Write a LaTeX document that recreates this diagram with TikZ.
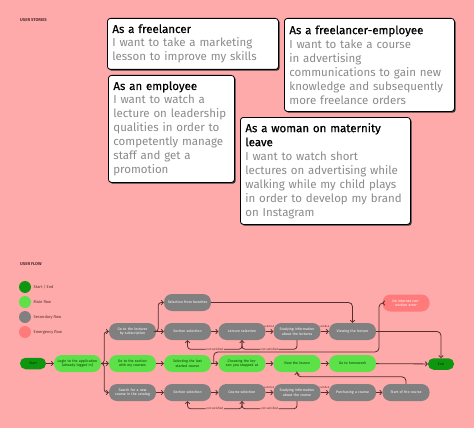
\documentclass[tikz,border=0pt]{standalone}
\usepackage{fontspec}
\setmainfont{Fira Sans}
\newfontfamily\titlef[FakeBold=0.5]{Fira Sans}
\usetikzlibrary{arrows.meta,calc,shadows}
\definecolor{bgpink}{RGB}{255,170,170}
\definecolor{grayn}{RGB}{128,128,128}
\definecolor{greenn}{RGB}{92,226,72}
\definecolor{dgreen}{RGB}{14,150,14}
\definecolor{emerg}{RGB}{255,122,122}
\definecolor{arrc}{RGB}{85,45,45}
\definecolor{bodyg}{RGB}{138,138,138}
\begin{document}
\begin{tikzpicture}[x=1pt,y=-1pt,
  story/.style={draw=black, line width=0.8pt, fill=white, rounded corners=3pt,
    anchor=north west, align=left, inner xsep=5pt, inner ysep=0pt,
    font=\fontsize{11.5}{14}\selectfont,
    drop shadow={shadow xshift=1.3pt, shadow yshift=-1.3pt, opacity=1, fill=black!80}},
  fbase/.style={rounded corners=8pt, minimum width=47pt, minimum height=17pt,
    inner sep=1pt, text width=42pt, align=center, font=\fontsize{3.6}{4.4}\selectfont},
  sec/.style={fbase, fill=grayn, text=white!92!pink},
  mainf/.style={fbase, fill=greenn, text=black!75!green},
  se/.style={fbase, fill=dgreen, text=black!80!green, minimum width=26pt, minimum height=11.5pt,
    rounded corners=5.5pt, text width=22pt},
  emer/.style={fbase, fill=emerg, text=white},
  arr/.style={draw=arrc, line width=0.8pt, -{Straight Barb[length=2pt,width=4.5pt]}},
  nsat/.style={fill=bgpink, inner sep=0.6pt, font=\fontsize{3}{3}\selectfont, text=arrc},
  sat/.style={inner sep=0pt, font=\fontsize{2.6}{2.6}\selectfont, text=arrc},
  heading/.style={anchor=west, inner sep=0pt, font=\fontsize{4.2}{5}\selectfont\bfseries, text=arrc},
  legc/.style={circle, minimum size=12pt, inner sep=0pt},
  legt/.style={anchor=west, inner sep=0pt, font=\fontsize{4}{5}\selectfont, text=arrc}
]
\fill[bgpink] (0,0) rectangle (474,428);
\useasboundingbox (0,0) rectangle (474,428);

% ---- user stories
\node[heading] (hs) at (20,20.5) {USER STORIES};
\node[story, text width=161pt, minimum height=51pt] (s1) at (107,18)
 {{\titlef As a freelancer}\\ \textcolor{bodyg}{I want to take a marketing}\\ \textcolor{bodyg}{lesson to improve my skills}};
\node[story, text width=160pt, minimum height=93pt] (s2) at (284,18)
 {{\titlef As a freelancer-employee}\\ \textcolor{bodyg}{I want to take a course}\\ \textcolor{bodyg}{in advertising}\\ \textcolor{bodyg}{communications to gain new}\\ \textcolor{bodyg}{knowledge and subsequently}\\ \textcolor{bodyg}{more freelance orders}};
\node[story, text width=116pt, minimum height=107pt] (s3) at (108,75)
 {{\titlef As an employee}\\ \textcolor{bodyg}{I want to watch a}\\ \textcolor{bodyg}{lecture on leadership}\\ \textcolor{bodyg}{qualities in order to}\\ \textcolor{bodyg}{competently manage}\\ \textcolor{bodyg}{staff and get a}\\ \textcolor{bodyg}{promotion}};
\node[story, text width=160pt, minimum height=107pt] (s4) at (240,117)
 {{\titlef As a woman on maternity}\\ {\titlef leave}\\ \textcolor{bodyg}{I want to watch short}\\ \textcolor{bodyg}{lectures on advertising while}\\ \textcolor{bodyg}{walking while my child plays}\\ \textcolor{bodyg}{in order to develop my brand}\\ \textcolor{bodyg}{on Instagram}};

% ---- legend
\node[heading] (hf) at (20,264) {USER FLOW};
\node[legc, fill=dgreen] (l1) at (25,287) {};
\node[legc, fill=greenn] (l2) at (25,302) {};
\node[legc, fill=grayn] (l3) at (25,317) {};
\node[legc, fill=emerg] (l4) at (25,332) {};
\node[legt] (t1) at (33.5,287) {Start / End};
\node[legt] (t2) at (33.5,302) {Main flow};
\node[legt] (t3) at (33.5,317) {Secondary flow};
\node[legt] (t4) at (33.5,332) {Emergency flow};

% ---- flow nodes
\node[se] (start) at (33,363.5) {Start};
\node[mainf] (login) at (77.5,363.5) {Login to the application (already logged in)};
\node[sec] (golec) at (132.5,331.5) {Go to the lectures by subscription};
\node[mainf] (mycourses) at (132.5,363.5) {Go to the section with my courses};
\node[sec] (search) at (132.5,392.5) {Search for a new course in the catalog};
\node[sec] (fav) at (187.5,302.5) {Selection from favorites};
\node[sec] (sec1) at (187.5,331.5) {Section selection};
\node[mainf] (last) at (187.5,363.5) {Selecting the last started course};
\node[sec] (sec3) at (187.5,392.5) {Section selection};
\node[sec] (lec) at (242,331.5) {Lecture selection};
\node[mainf] (choose) at (242,363.5) {Choosing the lesson you stopped at};
\node[sec] (course) at (242,392.5) {Course selection};
\node[sec] (stud1) at (297,331.5) {Studying information about the lectures};
\node[mainf] (view) at (297,363.5) {View the lesson};
\node[sec] (stud3) at (297,392.5) {Studying information about the course};
\node[sec] (vlec) at (352.5,331.5) {Viewing the lecture};
\node[mainf] (hw) at (352.5,363.5) {Go to homework};
\node[sec] (purch) at (352.5,392.5) {Purchasing a course};
\node[emer] (err) at (406,303) {No internet connection error};
\node[sec] (startc) at (406,392.5) {Start of the course};
\node[se] (end) at (441,364) {End};

% ---- connectors
\draw[arr] (start) -- (login);
\draw[arr] (login) -- (mycourses);
\draw[arr, rounded corners=3pt] (login.east) -- ++(3,0) |- (golec.west);
\draw[arr, rounded corners=3pt] (login.east) -- ++(3,0) |- (search.west);
\draw[arr] (golec) -- (sec1);
\draw[arr, rounded corners=3pt] (golec.east) -- ++(2,0) |- (fav.west);
\draw[arr, rounded corners=4pt] (fav.east) -| (vlec.north);
\draw[arr] (sec1) -- (lec);
\draw[arr] (lec) -- node[sat, pos=0.45, yshift=5.5pt] {satisfied} (stud1);
\draw[arr] (stud1) -- node[sat, pos=0.45, yshift=5.5pt] {satisfied} (vlec);
\draw[arr, rounded corners=4pt] (vlec.east) -| (end.north);
\draw[arr, rounded corners=3pt] (lec.south) -- ++(0,9) -- node[nsat] {not satisfied} ($(sec1.south)+(0,9)$) -- (sec1.south);
\draw[arr, rounded corners=3pt] (stud1.south) -- ++(0,9) -- node[nsat] {not satisfied} ($(lec.south)+(0,9)$) -- (lec.south);

\draw[arr] (mycourses) -- (last);
\draw[arr] (last) -- (choose);
\coordinate (em) at ($(last.east)!0.35!(choose.west)$);
\draw[arr, rounded corners=4pt] (em) |- (379,352) |- (err.west);
\draw[arr] (choose) -- (view);
\draw[arr] (view) -- (hw);
\draw[arr] (hw) -- (end);

\draw[arr] (search) -- (sec3);
\draw[arr] (sec3) -- (course);
\draw[arr] (course) -- node[sat, pos=0.45, yshift=5.5pt] {satisfied} (stud3);
\draw[arr] (stud3) -- node[sat, pos=0.45, yshift=5.5pt] {satisfied} (purch);
\draw[arr] (purch) -- (startc);
\draw[arr, rounded corners=3pt] (course.south) -- ++(0,7.5) -- node[nsat] {not satisfied} ($(sec3.south)+(0,7.5)$) -- (sec3.south);
\draw[arr, rounded corners=3pt] (stud3.south) -- ++(0,7.5) -- node[nsat] {not satisfied} ($(course.south)+(0,7.5)$) -- (course.south);
\draw[arr, rounded corners=4pt] (startc.north) -- ++(0,-7) -| (view.south);
\end{tikzpicture}
\end{document}
